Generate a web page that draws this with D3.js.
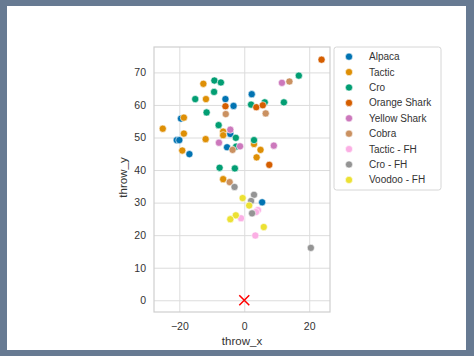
<!DOCTYPE html>
<html><head><meta charset="utf-8">
<script src="https://cdn.jsdelivr.net/npm/d3@7"></script>
<style>body{margin:0;background:#677a92;}svg{display:block;font-family:"Liberation Sans",Arial,sans-serif;}</style>
</head><body><svg id="c" width="474" height="356"></svg>
<script>
const categories = ["Alpaca","Tactic","Cro","Orange Shark","Yellow Shark","Cobra","Tactic - FH","Cro - FH","Voodoo - FH"];
const colors = ["#0173b2","#de8f05","#029e73","#d55e00","#cc78bc","#ca9161","#fbafe4","#949494","#ece133"];
const alpacaX = [2.3,-5.8,-3.3,-19.5,-4.3,-20.8,-20.0,-5.3,-16.9,5.5];
const alpacaY = [63.3,61.8,59.7,55.8,51.1,49.2,49.2,47.0,44.9,30.1];
const tacticX = [-12.6,-11.8,-18.6,-25.1,-6.5,-6.5,-18.6,-11.9,3.0,5.0,-19.1,3.8,-6.5];
const tacticY = [66.5,61.8,56.1,52.7,51.8,50.7,51.2,49.5,48.0,46.2,46.0,43.9,37.2];
const croX = [16.8,12.2,2.1,6.3,-9.2,-7.2,-9.3,-15.1,-11.6,-7.9,-2.6,3.0,-2.5,-7.6,-2.9];
const croY = [69.0,60.8,60.1,60.8,67.5,66.9,64.0,61.8,57.7,53.8,49.9,49.2,47.2,40.7,40.5];
const orangeSharkX = [23.8,3.7,5.7,-5.8,7.7];
const orangeSharkY = [73.9,59.3,59.9,59.6,41.6];
const yellowSharkX = [11.6,-4.3,-7.8,-1.3,9.1];
const yellowSharkY = [66.8,52.4,48.4,47.3,47.5];
const cobraX = [13.9,6.6,-5.7,-3.6,-4.5];
const cobraY = [67.2,57.4,57.2,46.2,36.3];
const tacticFhX = [4.2,3.6,-1.0,3.4];
const tacticFhY = [27.7,27.1,25.2,19.9];
const croFhX = [-3.0,3.0,2.1,2.4,20.5];
const croFhY = [34.8,32.4,30.5,26.7,16.1];
const voodooFhX = [-0.5,1.5,-2.6,-4.3,6.0];
const voodooFhY = [31.4,29.1,26.1,24.9,22.5];
const xTicks = [-20,0,20];
const yTicks = [0,10,20,30,40,50,60,70];
const targetX = [0], targetY = [0];

const seriesX = [alpacaX,tacticX,croX,orangeSharkX,yellowSharkX,cobraX,tacticFhX,croFhX,voodooFhX];
const seriesY = [alpacaY,tacticY,croY,orangeSharkY,yellowSharkY,cobraY,tacticFhY,croFhY,voodooFhY];

const svg = d3.select("#c");
svg.append("rect").attr("x",7).attr("y",6).attr("width",459).attr("height",344).attr("fill","#fff");

const L=154,R=330,T=47,B=312;
const x = d3.scaleLinear().domain([-27.8,26.4]).range([L,R]);
const y = d3.scaleLinear().domain([-3.6,77.8]).range([B,T]);

const gx = svg.append("g").attr("transform",`translate(0,${B})`)
  .call(d3.axisBottom(x).tickValues(xTicks).tickSize(-(B-T)).tickPadding(11).tickFormat(d=>d<0?"\u2212"+(-d):d));
const gy = svg.append("g").attr("transform",`translate(${L},0)`)
  .call(d3.axisLeft(y).tickValues(yTicks).tickSize(-(R-L)).tickPadding(8));
[gx,gy].forEach(g=>{
  g.select(".domain").remove();
  g.selectAll("line").attr("stroke","#dcdcdc").attr("stroke-width",1);
  g.selectAll("text").attr("fill","#333").style("font-size","10.5px").style("font-family","'Liberation Sans',Arial,sans-serif");
});
svg.append("rect").attr("x",L).attr("y",T).attr("width",R-L).attr("height",B-T)
  .attr("fill","none").attr("stroke","#cfcfcf").attr("stroke-width",1.2);

categories.forEach((c,i)=>{
  svg.append("g").selectAll("circle").data(seriesX[i].map((v,j)=>[v,seriesY[i][j]])).join("circle")
    .attr("cx",d=>x(d[0])).attr("cy",d=>y(d[1])).attr("r",3.6)
    .attr("fill",colors[i]).attr("stroke","#fff").attr("stroke-width",0.6);
});

// target marker
targetX.forEach((tx,i)=>{
  const cx=x(tx), cy=y(targetY[i]), s=5;
  svg.append("path").attr("d",`M${cx-s},${cy-s}L${cx+s},${cy+s}M${cx-s},${cy+s}L${cx+s},${cy-s}`)
    .attr("stroke","#ff0000").attr("stroke-width",1.5).attr("fill","none");
});

svg.append("text").attr("x",(L+R)/2).attr("y",345).attr("text-anchor","middle")
  .attr("fill","#333").style("font-size","11.5px").text("throw_x");
svg.append("text").attr("transform",`translate(127,${(T+B)/2 - 2}) rotate(-90)`).attr("text-anchor","middle")
  .attr("fill","#333").style("font-size","11.5px").text("throw_y");

// legend
const lg = svg.append("g");
lg.append("rect").attr("x",334).attr("y",47).attr("width",107).attr("height",143).attr("rx",2.5)
  .attr("fill","#fff").attr("stroke","#d6d6d6").attr("stroke-width",1);
categories.forEach((c,i)=>{
  const ly = 56.7 + i*15.4;
  lg.append("circle").attr("cx",349).attr("cy",ly).attr("r",3.6).attr("fill",colors[i]).attr("stroke","#fff").attr("stroke-width",0.6);
  lg.append("text").attr("x",369).attr("y",ly).attr("dy","0.35em").attr("fill","#333").style("font-size","10px").text(c);
});
</script></body></html>
